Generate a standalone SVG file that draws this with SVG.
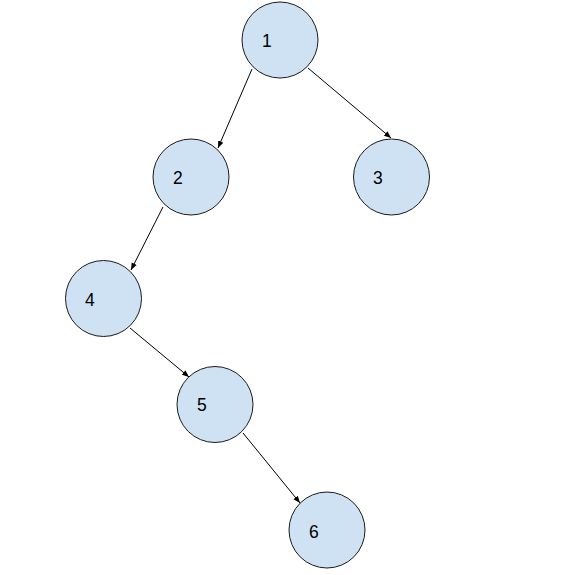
<svg xmlns="http://www.w3.org/2000/svg" width="574" height="575" viewBox="0 0 574 575">
<defs>
<style>
.node circle{fill:#cfe2f3;stroke:#1a1a1a;stroke-width:1}
.node text{font-family:"Liberation Sans",Arial,sans-serif;font-size:17.5px;fill:#000}
.edges line{stroke:#000;stroke-width:1;marker-end:url(#arr)}
</style>
<marker id="arr" viewBox="0 0 10 10" refX="10" refY="5" markerWidth="7" markerHeight="7" orient="auto" markerUnits="userSpaceOnUse">
<path d="M0,1 L10,5 L0,9 z" fill="#000"/>
</marker>
</defs>
<rect width="574" height="575" fill="#fff"/>
<g class="edges">
<line x1="252" y1="69" x2="218" y2="148"/>
<line x1="308" y1="68" x2="391" y2="138"/>
<line x1="163" y1="207" x2="131" y2="270"/>
<line x1="130" y1="328" x2="189" y2="377"/>
<line x1="243" y1="433" x2="300" y2="503"/>
</g>
<g id="n1" class="node"><circle cx="280" cy="40" r="38"/><text x="262" y="47">1</text></g>
<g id="n2" class="node"><circle cx="191" cy="177" r="38"/><text x="173" y="184">2</text></g>
<g id="n3" class="node"><circle cx="391.5" cy="177" r="38"/><text x="373" y="184">3</text></g>
<g id="n4" class="node"><circle cx="103.5" cy="298.5" r="38"/><text x="85" y="306">4</text></g>
<g id="n5" class="node"><circle cx="215" cy="404.5" r="38"/><text x="197" y="411">5</text></g>
<g id="n6" class="node"><circle cx="327" cy="530" r="38"/><text x="309" y="538">6</text></g>
</svg>
